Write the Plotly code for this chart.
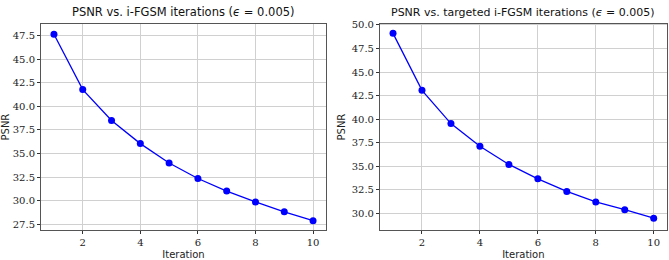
import plotly.graph_objects as go

iterations = [1, 2, 3, 4, 5, 6, 7, 8, 9, 10]
psnr_ifgsm = [47.64, 41.77, 38.5, 36.05, 34.0, 32.35, 31.02, 29.87, 28.82, 27.88]
psnr_targeted = [49.1, 43.06, 39.53, 37.12, 35.2, 33.67, 32.34, 31.23, 30.4, 29.5]
titles = ["PSNR vs. i-FGSM iterations (<i>ϵ</i> = 0.005)",
          "PSNR vs. targeted i-FGSM iterations (<i>ϵ</i> = 0.005)"]
ytick_left = [27.5, 30.0, 32.5, 35.0, 37.5, 40.0, 42.5, 45.0, 47.5]
ytick_right = [30.0, 32.5, 35.0, 37.5, 40.0, 42.5, 45.0, 47.5, 50.0]
xticks = [2, 4, 6, 8, 10]
yrange_left = [26.85, 48.75]
yrange_right = [28.2, 50.12]

fig = go.Figure()
series = [psnr_ifgsm, psnr_targeted]
for i, ys in enumerate(series):
    fig.add_trace(go.Scatter(
        x=iterations, y=ys, mode="lines+markers",
        line=dict(color="#0000ff", width=1.3),
        marker=dict(color="#0000ff", size=7),
        xaxis="x" if i == 0 else "x2", yaxis="y" if i == 0 else "y2",
        showlegend=False))

tickfont = dict(family="DejaVu Serif", size=10, color="#222")
common_x = dict(range=[0.55, 10.45], tickvals=xticks, ticktext=[str(t) for t in xticks],
                showgrid=True, gridcolor="#d0d0d0", gridwidth=1,
                showline=True, linecolor="#555", linewidth=1, mirror=True,
                ticks="outside", ticklen=3, tickcolor="#333", tickfont=tickfont,
                zeroline=False,
                title=dict(text="Iteration", font=dict(family="DejaVu Sans", size=10, color="#222"), standoff=4))
common_y = dict(showgrid=True, gridcolor="#d0d0d0", gridwidth=1,
                showline=True, linecolor="#555", linewidth=1, mirror=True,
                ticks="outside", ticklen=3, tickcolor="#333", tickfont=tickfont,
                zeroline=False,
                title=dict(text="PSNR", font=dict(family="DejaVu Sans", size=10, color="#222"), standoff=4))

fig.update_layout(
    width=669, height=260,
    margin=dict(l=0, r=0, t=0, b=0),
    paper_bgcolor="white", plot_bgcolor="white",
    xaxis=dict(domain=[0.0613, 0.4873], anchor="y", **common_x),
    yaxis=dict(domain=[0.1154, 0.923], anchor="x", range=yrange_left,
               tickvals=ytick_left, ticktext=[f"{t:.1f}" for t in ytick_left], **common_y),
    xaxis2=dict(domain=[0.568, 0.9966], anchor="y2", **common_x),
    yaxis2=dict(domain=[0.1154, 0.923], anchor="x2", range=yrange_right,
                tickvals=ytick_right, ticktext=[f"{t:.1f}" for t in ytick_right], **common_y),
    annotations=[
        dict(text=titles[0], x=(0.0613 + 0.4873) / 2, y=0.935, xref="paper", yref="paper",
             xanchor="center", yanchor="bottom", showarrow=False,
             font=dict(family="DejaVu Sans", size=11.5, color="#111")),
        dict(text=titles[1], x=(0.568 + 0.9966) / 2, y=0.935, xref="paper", yref="paper",
             xanchor="center", yanchor="bottom", showarrow=False,
             font=dict(family="DejaVu Sans", size=11, color="#111")),
    ],
)

fig.write_html("out.html", config={"displayModeBar": False},
               post_script="document.body.style.margin='0';document.body.style.padding='0';document.body.style.overflow='hidden';")
